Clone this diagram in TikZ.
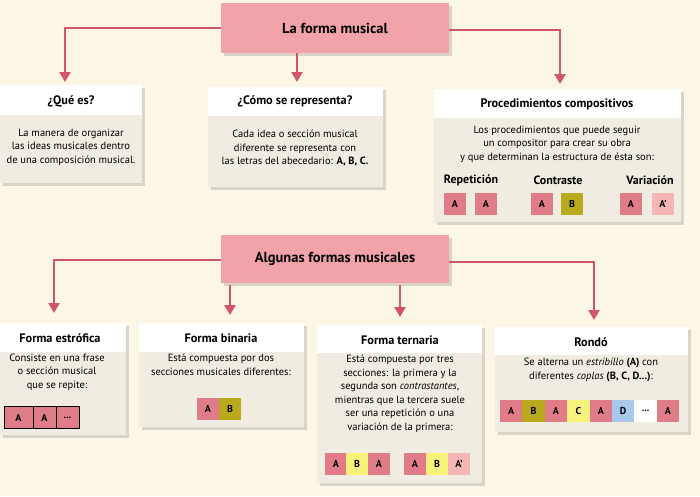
\documentclass[tikz,border=0pt]{standalone}
\usepackage{fontspec}
\setmainfont{PT Sans}
\usetikzlibrary{arrows.meta,fit,calc}
\definecolor{bg}{HTML}{FBF6E6}
\definecolor{body}{HTML}{F1ECE1}
\definecolor{shad}{HTML}{D9D4C8}
\definecolor{ttl}{HTML}{F2A3AA}
\definecolor{arr}{HTML}{D0566A}
\definecolor{pk}{HTML}{E07C88}
\definecolor{ol}{HTML}{B8AA1C}
\definecolor{ye}{HTML}{F7F27C}
\definecolor{lp}{HTML}{F6B6B6}
\definecolor{bl}{HTML}{A8C8EC}
\newcommand\mydots{...}
\tikzset{
  titlebox/.style={fill=ttl,inner sep=0pt,font=\fontsize{14.5}{16}\selectfont\bfseries},
  conn/.style={draw=arr,line width=2.8pt,-{Triangle[width=11pt,length=10pt]}},
  hd/.style={font=\fontsize{12.3}{14}\selectfont\bfseries},
  txt/.style={font=\fontsize{10.5}{13.5}\selectfont,align=center},
  lab/.style={font=\fontsize{12}{14}\selectfont\bfseries},
  sq/.style={minimum width=22pt,minimum height=22pt,inner sep=0pt,font=\fontsize{10}{12}\selectfont\bfseries},
}
\newcommand\card[6]{%
  \fill[shad] (#2+2.5,#3+2.5) rectangle (#4+2.5,#5+2.5);
  \fill[body] (#2,#3) rectangle (#4,#5);
  \fill[white] (#2,#3) rectangle (#4,#6);
  \path (#2,#3) coordinate (#1-nw) (#4,#5) coordinate (#1-se);
  \node[fit=(#1-nw)(#1-se),inner sep=0pt] (#1) {};}
\begin{document}
\begin{tikzpicture}[x=1pt,y=-1pt]
\fill[bg] (0,0) rectangle (700,496);
\useasboundingbox (0,0) rectangle (700,496);
% top
\fill[shad] (223.5,5.5) rectangle (451.5,55.5);
\node[titlebox,minimum width=228pt,minimum height=50pt] (t1) at (335,28) {La forma musical};
\card{q}{0}{85}{142}{183}{115}
\card{c}{208}{87}{383}{187}{116}
\card{p}{434}{89}{681}{222}{118}
\node[hd] (qh) at (71,101) {¿Qué es?};
\node[txt] (qt) at (71,147) {La manera de organizar\\las ideas musicales dentro\\de una composición musical.};
\node[hd] (ch) at (295,101) {¿Cómo se representa?};
\node[txt] (ct) at (295,148) {Cada idea o sección musical\\diferente se representa con\\las letras del abecedario: \textbf{A, B, C.}};
\node[hd] (ph) at (557,104) {Procedimientos compositivos};
\node[txt] (pt) at (557,144) {Los procedimientos que puede seguir\\un compositor para crear su obra\\y que determinan la estructura de ésta son:};
\node[lab] (l1) at (471,180) {Repetición};
\node[lab] (l2) at (558,180) {Contraste};
\node[lab] (l3) at (650,180) {Variación};
\node[sq,fill=pk] (r1) at (455,204) {A};
\node[sq,fill=pk] (r2) at (486,204) {A};
\node[sq,fill=pk] (r3) at (542,204) {A};
\node[sq,fill=ol] (r4) at (572,204) {B};
\node[sq,fill=pk] (r5) at (631,204) {A};
\node[sq,fill=lp] (r6) at (663,204) {A’};
\coordinate (qa) at (65,82);
\coordinate (pa) at (560,84);
\draw[conn] (t1.west|-qa) ++(0,-54) -| (qa);
\draw[conn] (297,53) -- (297,82);
\draw[conn] (t1.east|-pa) ++(0,-54) -| (pa);
% second
\fill[shad] (223.5,237.5) rectangle (451.5,285.5);
\node[titlebox,minimum width=228pt,minimum height=48pt] (t2) at (335,259) {Algunas formas musicales};
\card{e}{0}{323}{126}{435}{352}
\card{b}{139}{323}{304}{427}{352}
\card{t}{317}{325}{482}{483}{353}
\card{r}{495}{327}{688}{432}{355}
\node[hd] (eh) at (60,338) {Forma estrófica};
\node[txt] (et) at (57,372) {Consiste en una frase\\o sección musical\\que se repite:};
\node[sq,fill=pk,draw=black,minimum width=29pt] (e1) at (18.5,417.5) {A};
\node[sq,fill=pk,draw=black,minimum width=23pt] (e2) at (44.5,417.5) {A};
\node[sq,fill=pk,draw=black,minimum width=23pt] (e3) at (67.5,417.5) {\mydots};
\node[hd] (bh) at (221,338) {Forma binaria};
\node[txt] (bt) at (221,365) {Está compuesta por dos\\secciones musicales diferentes:};
\node[sq,fill=pk] (b1) at (208,408.5) {A};
\node[sq,fill=ol] (b2) at (230,408.5) {B};
\node[hd] (th) at (400,340) {Forma ternaria};
\node[txt] (tt) at (400,394) {Está compuesta por tres\\secciones: la primera y la\\segunda son \textit{contrastantes},\\mientras que la tercera suele\\ser una repetición o una\\variación de la primera:};
\node[sq,fill=pk] (x1) at (336,463.5) {A};
\node[sq,fill=ye] (x2) at (357,463.5) {B};
\node[sq,fill=pk] (x3) at (379,463.5) {A};
\node[sq,fill=pk] (x4) at (415,463.5) {A};
\node[sq,fill=ye] (x5) at (437,463.5) {B};
\node[sq,fill=lp] (x6) at (459,463.5) {A’};
\node[hd] (rh) at (591,342) {Rondó};
\node[txt] (rt) at (591,370) {Se alterna un \textit{estribillo} \textbf{(A)} con\\diferentes \textit{coplas} \textbf{(B, C, D\mydots)}:};
\foreach \l/\c [count=\i] in {A/pk,B/ol,A/pk,C/ye,A/pk,D/bl,\mydots/white,A/pk}
  \node[sq,fill=\c,minimum width=22.4pt] (y\i) at ({500+11.2+(\i-1)*22.4},411) {\l};
\coordinate (ea) at (54,313);
\coordinate (ra) at (594,320);
\draw[conn] (t2.west|-ea) ++(0,-53) -| (ea);
\draw[conn] (230,285) -- (230,315);
\draw[conn] (400,285) -- (400,317);
\draw[conn] (t2.east|-ra) ++(0,-58) -| (ra);
\end{tikzpicture}
\end{document}
